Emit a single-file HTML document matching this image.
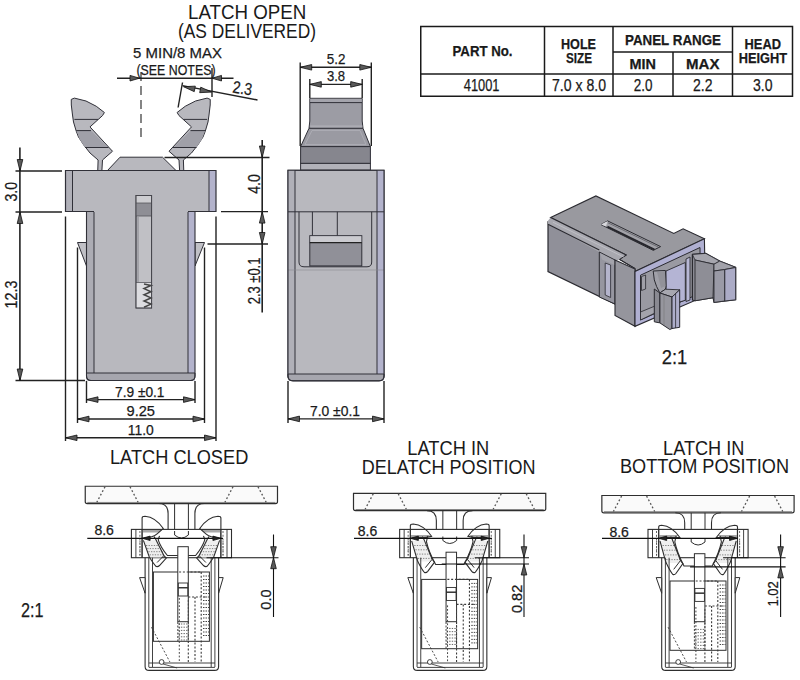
<!DOCTYPE html><html><head><meta charset="utf-8"><style>html,body{margin:0;padding:0;background:#fff;}svg{display:block}</style></head><body>
<svg width="800" height="680" viewBox="0 0 800 680">
<rect width="800" height="680" fill="#fff"/>
<polygon points="71.25,99.40 74.40,98.10 86.00,101.00 96.25,106.25 104.40,112.50 102.50,115.60 90.00,126.90 112.50,151.25 102.50,160.00 101.90,170.50 97.75,170.50 98.10,160.00 90.00,153.00 83.75,145.00 78.50,137.00 76.25,131.25 73.50,122.00 72.50,115.00 71.30,105.00" fill="#b8b8be" stroke="#303038" stroke-width="1.0" />
<polygon points="210.25,99.40 207.10,98.10 195.50,101.00 185.25,106.25 177.10,112.50 179.00,115.60 191.50,126.90 169.00,151.25 179.00,160.00 179.60,170.50 183.75,170.50 183.40,160.00 191.50,153.00 197.75,145.00 203.00,137.00 205.25,131.25 208.00,122.00 209.00,115.00 210.20,105.00" fill="#b8b8be" stroke="#303038" stroke-width="1.0" />
<polygon points="76.50,130.60 91.00,130.60 108.00,147.50 85.00,147.50 79.50,139.00" fill="#a0a0a8" stroke="none" stroke-width="1.0" />
<line x1="74.4" y1="119.4" x2="98" y2="119.4" stroke="#303038" stroke-width="1.0" />
<line x1="76.2" y1="130.6" x2="91" y2="130.6" stroke="#303038" stroke-width="1.0" />
<line x1="85" y1="147.5" x2="108.5" y2="147.5" stroke="#303038" stroke-width="1.0" />
<polygon points="205.00,130.60 190.50,130.60 173.50,147.50 196.50,147.50 202.00,139.00" fill="#a0a0a8" stroke="none" stroke-width="1.0" />
<line x1="207.1" y1="119.4" x2="183.5" y2="119.4" stroke="#303038" stroke-width="1.0" />
<line x1="205.3" y1="130.6" x2="190.5" y2="130.6" stroke="#303038" stroke-width="1.0" />
<line x1="196.5" y1="147.5" x2="173.0" y2="147.5" stroke="#303038" stroke-width="1.0" />
<polygon points="107.50,170.50 120.00,157.20 162.50,157.20 176.00,170.50" fill="#b8b8be" stroke="#303038" stroke-width="1.0" />
<polygon points="77.50,242.50 86.50,242.50 86.50,266.00" fill="#c0c0c6" stroke="#303038" stroke-width="1.0" />
<polygon points="204.50,242.50 195.00,242.50 195.00,266.00" fill="#c0c0c6" stroke="#303038" stroke-width="1.0" />
<path d="M86.5,210.5 L195,210.5 L195,376 Q195,380.5 190.5,380.5 L91,380.5 Q86.5,380.5 86.5,376 Z" fill="#b8b8be" stroke="none"/>
<rect x="86.5" y="211.5" width="7.5" height="169" rx="0" fill="#acacb4" stroke="#303038" stroke-width="0" />
<rect x="188" y="211.5" width="7" height="169" rx="0" fill="#b3b3cc" stroke="#303038" stroke-width="0" />
<line x1="94" y1="211.5" x2="94" y2="380" stroke="#303038" stroke-width="1" />
<line x1="188" y1="211.5" x2="188" y2="380" stroke="#303038" stroke-width="1" />
<path d="M86.5,373 L195,373 L195,376 Q195,380.5 190.5,380.5 L91,380.5 Q86.5,380.5 86.5,376 Z" fill="#a6a6ae" stroke="#303038" stroke-width="1.0"/>
<path d="M195,211.5 L195,376 Q195,380.5 190.5,380.5 L91,380.5 Q86.5,380.5 86.5,376 L86.5,211.5" fill="none" stroke="#303038" stroke-width="1.1"/>
<rect x="65.5" y="170.5" width="150.5" height="41.5" rx="0" fill="#b8b8be" stroke="#303038" stroke-width="0" />
<rect x="65.5" y="170.5" width="7" height="41" rx="0" fill="#b0b0b8" stroke="#303038" stroke-width="0" />
<rect x="209" y="170.5" width="7" height="41" rx="0" fill="#b3b3cc" stroke="#303038" stroke-width="0" />
<line x1="72.5" y1="170.5" x2="72.5" y2="211.5" stroke="#303038" stroke-width="1" />
<line x1="209" y1="170.5" x2="209" y2="211.5" stroke="#303038" stroke-width="1" />
<path d="M94,211.5 L65.5,211.5 L65.5,170.5 L216,170.5 L216,211.5 L188,211.5" fill="none" stroke="#303038" stroke-width="1.2"/>
<rect x="136" y="195.5" width="15.6" height="112.5" rx="0" fill="#c0c0c5" stroke="#45454c" stroke-width="0.9" />
<rect x="136.4" y="196" width="14.8" height="7" rx="0" fill="#cdcdd1" stroke="#303038" stroke-width="0" />
<rect x="136.4" y="203" width="14.8" height="13" rx="0" fill="#8e8e95" stroke="#303038" stroke-width="0" />
<line x1="136" y1="203" x2="151.6" y2="203" stroke="#55555c" stroke-width="0.8" />
<line x1="136" y1="216" x2="151.6" y2="216" stroke="#55555c" stroke-width="0.8" />
<rect x="136.4" y="282.5" width="14.8" height="25" rx="0" fill="#dcdce0" stroke="#303038" stroke-width="0" />
<line x1="136" y1="282.5" x2="151.6" y2="282.5" stroke="#55555c" stroke-width="0.8" />
<path d="M144,284 L151,285.5 L144,288.6 L151,291.7 L144,294.8 L151,297.9 L144,301.0 L151,304.1 L144,307.2" fill="none" stroke="#444" stroke-width="1.5"/>
<line x1="138" y1="217" x2="138" y2="282" stroke="#77777e" stroke-width="0.8" />
<rect x="136" y="195.5" width="15.6" height="112.5" rx="0" fill="none" stroke="#45454c" stroke-width="0.9" />
<line x1="15.5" y1="171" x2="62" y2="171" stroke="#222" stroke-width="1.4" />
<line x1="15.5" y1="212" x2="62" y2="212" stroke="#222" stroke-width="1.4" />
<line x1="15.5" y1="380.5" x2="85" y2="380.5" stroke="#222" stroke-width="1.4" />
<line x1="19.9" y1="147.5" x2="19.9" y2="380.5" stroke="#222" stroke-width="1.6" />
<polygon points="20.00,171.00 17.20,159.50 22.80,159.50" fill="#5a5a5a" stroke="#111" stroke-width="0.8"/>
<polygon points="20.00,212.00 22.80,223.50 17.20,223.50" fill="#5a5a5a" stroke="#111" stroke-width="0.8"/>
<polygon points="20.00,380.50 17.20,369.00 22.80,369.00" fill="#5a5a5a" stroke="#111" stroke-width="0.8"/>
<text transform="translate(17.4,201.5) rotate(-90)" font-size="16.5" font-family="Liberation Sans, sans-serif" stroke="#1a1a1a" stroke-width="0.25" fill="#1a1a1a" textLength="19.5" lengthAdjust="spacingAndGlyphs">3.0</text>
<text transform="translate(17.4,308.6) rotate(-90)" font-size="16.5" font-family="Liberation Sans, sans-serif" stroke="#1a1a1a" stroke-width="0.25" fill="#1a1a1a" textLength="28" lengthAdjust="spacingAndGlyphs">12.3</text>
<line x1="164.5" y1="157.5" x2="269.5" y2="157.5" stroke="#222" stroke-width="1.4" />
<line x1="221" y1="211.6" x2="268" y2="211.6" stroke="#222" stroke-width="1.4" />
<line x1="207.5" y1="244" x2="268" y2="244" stroke="#222" stroke-width="1.4" />
<line x1="262.2" y1="140" x2="262.2" y2="312.4" stroke="#222" stroke-width="1.6" />
<polygon points="262.20,157.50 259.40,146.00 265.00,146.00" fill="#5a5a5a" stroke="#111" stroke-width="0.8"/>
<polygon points="262.20,211.60 265.00,223.10 259.40,223.10" fill="#5a5a5a" stroke="#111" stroke-width="0.8"/>
<polygon points="262.20,244.00 259.40,232.50 265.00,232.50" fill="#5a5a5a" stroke="#111" stroke-width="0.8"/>
<text transform="translate(259.6,193.8) rotate(-90)" font-size="16.5" font-family="Liberation Sans, sans-serif" stroke="#1a1a1a" stroke-width="0.25" fill="#1a1a1a" textLength="19.8" lengthAdjust="spacingAndGlyphs">4.0</text>
<text transform="translate(259.6,304.2) rotate(-90)" font-size="16.5" font-family="Liberation Sans, sans-serif" stroke="#1a1a1a" stroke-width="0.25" fill="#1a1a1a" textLength="46.6" lengthAdjust="spacingAndGlyphs">2.3 ±0.1</text>
<line x1="86.5" y1="381" x2="86.5" y2="403" stroke="#222" stroke-width="1.4" />
<line x1="195" y1="381" x2="195" y2="403" stroke="#222" stroke-width="1.4" />
<line x1="77.5" y1="247.5" x2="77.5" y2="423" stroke="#222" stroke-width="1.4" />
<line x1="204.5" y1="247.5" x2="204.5" y2="423" stroke="#222" stroke-width="1.4" />
<line x1="65.5" y1="216.5" x2="65.5" y2="441" stroke="#222" stroke-width="1.4" />
<line x1="216" y1="216.5" x2="216" y2="441" stroke="#222" stroke-width="1.4" />
<line x1="86.5" y1="399.6" x2="195" y2="399.6" stroke="#222" stroke-width="1.4" />
<polygon points="86.50,399.60 98.00,396.80 98.00,402.40" fill="#5a5a5a" stroke="#111" stroke-width="0.8"/>
<polygon points="195.00,399.60 183.50,402.40 183.50,396.80" fill="#5a5a5a" stroke="#111" stroke-width="0.8"/>
<line x1="77.5" y1="419" x2="204.5" y2="419" stroke="#222" stroke-width="1.4" />
<polygon points="77.50,419.00 89.00,416.20 89.00,421.80" fill="#5a5a5a" stroke="#111" stroke-width="0.8"/>
<polygon points="204.50,419.00 193.00,421.80 193.00,416.20" fill="#5a5a5a" stroke="#111" stroke-width="0.8"/>
<line x1="65.5" y1="437.8" x2="216" y2="437.8" stroke="#222" stroke-width="1.4" />
<polygon points="65.50,437.80 77.00,435.00 77.00,440.60" fill="#5a5a5a" stroke="#111" stroke-width="0.8"/>
<polygon points="216.00,437.80 204.50,440.60 204.50,435.00" fill="#5a5a5a" stroke="#111" stroke-width="0.8"/>
<text x="139.75" y="396.5" font-size="15.5" font-family="Liberation Sans, sans-serif" stroke="#1a1a1a" stroke-width="0.25" font-weight="normal" fill="#1a1a1a" text-anchor="middle" textLength="49.5" lengthAdjust="spacingAndGlyphs">7.9 ±0.1</text>
<text x="140.75" y="416.2" font-size="15.5" font-family="Liberation Sans, sans-serif" stroke="#1a1a1a" stroke-width="0.25" font-weight="normal" fill="#1a1a1a" text-anchor="middle" textLength="28.5" lengthAdjust="spacingAndGlyphs">9.25</text>
<text x="140.75" y="435.2" font-size="15.5" font-family="Liberation Sans, sans-serif" stroke="#1a1a1a" stroke-width="0.25" font-weight="normal" fill="#1a1a1a" text-anchor="middle" textLength="26" lengthAdjust="spacingAndGlyphs">11.0</text>
<line x1="117" y1="78.2" x2="233.5" y2="78.2" stroke="#222" stroke-width="1.4" />
<polygon points="139.50,78.20 130.00,81.00 130.00,75.40" fill="#5a5a5a" stroke="#111" stroke-width="0.8"/>
<polygon points="212.00,78.20 221.50,75.40 221.50,81.00" fill="#5a5a5a" stroke="#111" stroke-width="0.8"/>
<line x1="141" y1="72" x2="141" y2="137" stroke="#222" stroke-width="1.1" stroke-dasharray="9,5"/>
<line x1="212" y1="68" x2="212" y2="97" stroke="#222" stroke-width="1.4" />
<line x1="182.5" y1="85.6" x2="257.5" y2="100" stroke="#222" stroke-width="1.4" />
<line x1="182.5" y1="82.5" x2="178.1" y2="107.5" stroke="#222" stroke-width="1.4" />
<polygon points="183.50,86.70 195.32,86.14 194.26,91.64" fill="#5a5a5a" stroke="#111" stroke-width="0.8"/>
<polygon points="211.50,92.10 199.68,92.66 200.74,87.16" fill="#5a5a5a" stroke="#111" stroke-width="0.8"/>
<text transform="translate(232,92.6) rotate(8)" font-size="17" font-family="Liberation Sans, sans-serif" stroke="#1a1a1a" stroke-width="0.25" fill="#1a1a1a" textLength="19.5" lengthAdjust="spacingAndGlyphs">2.3</text>
<text x="177.5" y="58.1" font-size="15.5" font-family="Liberation Sans, sans-serif" stroke="#1a1a1a" stroke-width="0.25" font-weight="normal" fill="#1a1a1a" text-anchor="middle" textLength="88.8" lengthAdjust="spacingAndGlyphs">5 MIN/8 MAX</text>
<text x="176" y="75" font-size="15.5" font-family="Liberation Sans, sans-serif" stroke="#1a1a1a" stroke-width="0.25" font-weight="normal" fill="#1a1a1a" text-anchor="middle" textLength="79" lengthAdjust="spacingAndGlyphs">(SEE NOTES)</text>
<text x="247.2" y="19.3" font-size="19.5" font-family="Liberation Sans, sans-serif" font-weight="normal" fill="#1a1a1a" text-anchor="middle" textLength="118.4" lengthAdjust="spacingAndGlyphs">LATCH OPEN</text>
<text x="247" y="38.3" font-size="19.5" font-family="Liberation Sans, sans-serif" font-weight="normal" fill="#1a1a1a" text-anchor="middle" textLength="138" lengthAdjust="spacingAndGlyphs">(AS DELIVERED)</text>
<path d="M309.8,98.3 L362.2,98.3 L362.2,121 L363,128.3 L309,128.3 L309.8,121 Z" fill="#9c9ca4" stroke="#303038" stroke-width="1.0"/>
<rect x="310.3" y="98.8" width="51.4" height="3.6" rx="0" fill="#a4a4ac" stroke="#303038" stroke-width="0" />
<line x1="310" y1="102.6" x2="362" y2="102.6" stroke="#303038" stroke-width="1.0" />
<rect x="310.3" y="125.3" width="52" height="2.5" rx="0" fill="#acacb3" stroke="#303038" stroke-width="0" />
<polygon points="309.00,128.30 363.00,128.30 370.40,146.60 300.60,146.60" fill="#9a9aa2" stroke="#303038" stroke-width="1.0" />
<polygon points="312.00,130.50 360.00,130.50 366.00,144.50 305.00,144.50" fill="none" stroke="#b0b0b8" stroke-width="0.8" />
<rect x="300.6" y="146.6" width="69.8" height="16.8" rx="0" fill="#86868e" stroke="#303038" stroke-width="1.0" />
<rect x="300.6" y="163.4" width="69.8" height="6.8" rx="0" fill="#b2b2b9" stroke="#303038" stroke-width="1.0" />
<path d="M288,170.2 L384,170.2 L384,376 Q384,380.8 379,380.8 L293,380.8 Q288,380.8 288,376 Z" fill="#b8b8be" stroke="#303038" stroke-width="1.1"/>
<rect x="288" y="170.2" width="7" height="210" rx="0" fill="#b0b0b8" stroke="#303038" stroke-width="0" />
<rect x="377" y="170.2" width="7" height="210" rx="0" fill="#b3b3cc" stroke="#303038" stroke-width="0" />
<line x1="295" y1="170.2" x2="295" y2="380" stroke="#303038" stroke-width="1" />
<line x1="377" y1="170.2" x2="377" y2="380" stroke="#303038" stroke-width="1" />
<line x1="288" y1="211.8" x2="384" y2="211.8" stroke="#303038" stroke-width="1" />
<path d="M299,211.8 L299,262 Q299,266.8 304,266.8 L367,266.8 Q371.7,266.8 371.7,262 L371.7,211.8" fill="none" stroke="#303038" stroke-width="1"/>
<line x1="312.4" y1="211.8" x2="312.4" y2="235.7" stroke="#303038" stroke-width="1" />
<line x1="337.3" y1="211.8" x2="337.3" y2="235.7" stroke="#303038" stroke-width="1" />
<rect x="309.8" y="235.7" width="52" height="30.2" rx="0" fill="#909098" stroke="#303038" stroke-width="1.0" />
<rect x="310.3" y="236.2" width="51" height="6.4" rx="0" fill="#cbcbd0" stroke="#303038" stroke-width="0" />
<line x1="309.8" y1="242.6" x2="361.8" y2="242.6" stroke="#222" stroke-width="1.2" />
<line x1="288" y1="270" x2="384" y2="270" stroke="#8a8a92" stroke-width="0.6" />
<path d="M288,374 L384,374 L384,376 Q384,380.8 379,380.8 L293,380.8 Q288,380.8 288,376 Z" fill="#a6a6ae" stroke="#303038" stroke-width="1.0"/>
<path d="M288,170.2 L384,170.2 L384,376 Q384,380.8 379,380.8 L293,380.8 Q288,380.8 288,376 Z" fill="none" stroke="#303038" stroke-width="1.1"/>
<line x1="300.2" y1="62.6" x2="300.2" y2="146" stroke="#222" stroke-width="1.4" />
<line x1="371.3" y1="62.6" x2="371.3" y2="146" stroke="#222" stroke-width="1.4" />
<line x1="309.8" y1="79" x2="309.8" y2="98" stroke="#222" stroke-width="1.4" />
<line x1="362.2" y1="79" x2="362.2" y2="98" stroke="#222" stroke-width="1.4" />
<line x1="300.2" y1="67.3" x2="371.3" y2="67.3" stroke="#222" stroke-width="1.4" />
<polygon points="300.20,67.30 311.70,64.50 311.70,70.10" fill="#5a5a5a" stroke="#111" stroke-width="0.8"/>
<polygon points="371.30,67.30 359.80,70.10 359.80,64.50" fill="#5a5a5a" stroke="#111" stroke-width="0.8"/>
<line x1="309.8" y1="84.4" x2="362.2" y2="84.4" stroke="#222" stroke-width="1.4" />
<polygon points="309.80,84.40 321.30,81.60 321.30,87.20" fill="#5a5a5a" stroke="#111" stroke-width="0.8"/>
<polygon points="362.20,84.40 350.70,87.20 350.70,81.60" fill="#5a5a5a" stroke="#111" stroke-width="0.8"/>
<text x="336.2" y="63.9" font-size="15.5" font-family="Liberation Sans, sans-serif" stroke="#1a1a1a" stroke-width="0.25" font-weight="normal" fill="#1a1a1a" text-anchor="middle" textLength="18.7" lengthAdjust="spacingAndGlyphs">5.2</text>
<text x="336" y="81.1" font-size="15.5" font-family="Liberation Sans, sans-serif" stroke="#1a1a1a" stroke-width="0.25" font-weight="normal" fill="#1a1a1a" text-anchor="middle" textLength="18.2" lengthAdjust="spacingAndGlyphs">3.8</text>
<line x1="288" y1="381" x2="288" y2="423" stroke="#222" stroke-width="1.4" />
<line x1="384" y1="381" x2="384" y2="423" stroke="#222" stroke-width="1.4" />
<line x1="288" y1="418.9" x2="384" y2="418.9" stroke="#222" stroke-width="1.4" />
<polygon points="288.00,418.90 299.50,416.10 299.50,421.70" fill="#5a5a5a" stroke="#111" stroke-width="0.8"/>
<polygon points="384.00,418.90 372.50,421.70 372.50,416.10" fill="#5a5a5a" stroke="#111" stroke-width="0.8"/>
<text x="335" y="415.6" font-size="15.5" font-family="Liberation Sans, sans-serif" stroke="#1a1a1a" stroke-width="0.25" font-weight="normal" fill="#1a1a1a" text-anchor="middle" textLength="50" lengthAdjust="spacingAndGlyphs">7.0 ±0.1</text>
<rect x="420.75" y="26.5" width="371.75" height="69.75" fill="none" stroke="#1a1a1a" stroke-width="1.5"/>
<line x1="420.75" y1="74" x2="792.5" y2="74" stroke="#1a1a1a" stroke-width="1.5" />
<line x1="544.5" y1="26.5" x2="544.5" y2="96.25" stroke="#1a1a1a" stroke-width="1.5" />
<line x1="613" y1="26.5" x2="613" y2="96.25" stroke="#1a1a1a" stroke-width="1.5" />
<line x1="732.5" y1="26.5" x2="732.5" y2="96.25" stroke="#1a1a1a" stroke-width="1.5" />
<line x1="673" y1="52" x2="673" y2="96.25" stroke="#1a1a1a" stroke-width="1.5" />
<line x1="613" y1="52" x2="732.5" y2="52" stroke="#1a1a1a" stroke-width="1.5" />
<text x="482.5" y="56.25" font-size="14.5" font-family="Liberation Sans, sans-serif" stroke="#1a1a1a" stroke-width="0.25" font-weight="bold" fill="#1a1a1a" text-anchor="middle" textLength="60" lengthAdjust="spacingAndGlyphs">PART No.</text>
<text x="578.5" y="48.75" font-size="14.5" font-family="Liberation Sans, sans-serif" stroke="#1a1a1a" stroke-width="0.25" font-weight="bold" fill="#1a1a1a" text-anchor="middle" textLength="35" lengthAdjust="spacingAndGlyphs">HOLE</text>
<text x="579" y="63" font-size="14.5" font-family="Liberation Sans, sans-serif" stroke="#1a1a1a" stroke-width="0.25" font-weight="bold" fill="#1a1a1a" text-anchor="middle" textLength="26" lengthAdjust="spacingAndGlyphs">SIZE</text>
<text x="673" y="45" font-size="14.5" font-family="Liberation Sans, sans-serif" stroke="#1a1a1a" stroke-width="0.25" font-weight="bold" fill="#1a1a1a" text-anchor="middle" textLength="96" lengthAdjust="spacingAndGlyphs">PANEL RANGE</text>
<text x="642.75" y="68.75" font-size="14.5" font-family="Liberation Sans, sans-serif" stroke="#1a1a1a" stroke-width="0.25" font-weight="bold" fill="#1a1a1a" text-anchor="middle" textLength="26.5" lengthAdjust="spacingAndGlyphs">MIN</text>
<text x="702.75" y="68.75" font-size="14.5" font-family="Liberation Sans, sans-serif" stroke="#1a1a1a" stroke-width="0.25" font-weight="bold" fill="#1a1a1a" text-anchor="middle" textLength="33.5" lengthAdjust="spacingAndGlyphs">MAX</text>
<text x="762.75" y="48.75" font-size="14.5" font-family="Liberation Sans, sans-serif" stroke="#1a1a1a" stroke-width="0.25" font-weight="bold" fill="#1a1a1a" text-anchor="middle" textLength="36.5" lengthAdjust="spacingAndGlyphs">HEAD</text>
<text x="762.9" y="63" font-size="14.5" font-family="Liberation Sans, sans-serif" stroke="#1a1a1a" stroke-width="0.25" font-weight="bold" fill="#1a1a1a" text-anchor="middle" textLength="48.3" lengthAdjust="spacingAndGlyphs">HEIGHT</text>
<text x="481.6" y="91" font-size="16" font-family="Liberation Sans, sans-serif" stroke="#1a1a1a" stroke-width="0.25" font-weight="normal" fill="#1a1a1a" text-anchor="middle" textLength="35.7" lengthAdjust="spacingAndGlyphs">41001</text>
<text x="579" y="91" font-size="16" font-family="Liberation Sans, sans-serif" stroke="#1a1a1a" stroke-width="0.25" font-weight="normal" fill="#1a1a1a" text-anchor="middle" textLength="54" lengthAdjust="spacingAndGlyphs">7.0 x 8.0</text>
<text x="643.1" y="91" font-size="16" font-family="Liberation Sans, sans-serif" stroke="#1a1a1a" stroke-width="0.25" font-weight="normal" fill="#1a1a1a" text-anchor="middle" textLength="18.7" lengthAdjust="spacingAndGlyphs">2.0</text>
<text x="702.75" y="91" font-size="16" font-family="Liberation Sans, sans-serif" stroke="#1a1a1a" stroke-width="0.25" font-weight="normal" fill="#1a1a1a" text-anchor="middle" textLength="19.5" lengthAdjust="spacingAndGlyphs">2.2</text>
<text x="762.75" y="91" font-size="16" font-family="Liberation Sans, sans-serif" stroke="#1a1a1a" stroke-width="0.25" font-weight="normal" fill="#1a1a1a" text-anchor="middle" textLength="19.5" lengthAdjust="spacingAndGlyphs">3.0</text>
<polygon points="548.00,222.00 615.00,256.00 615.00,304.00 548.00,271.60" fill="#909099" stroke="#2a2a30" stroke-width="1.2" />
<polygon points="550.60,217.60 595.90,195.90 673.80,233.40 683.10,228.75 704.40,238.75 635.00,271.50 635.00,268.50 619.60,259.40 626.20,255.00" fill="#99999f" stroke="#2a2a30" stroke-width="1.1" />
<polygon points="548.00,220.80 550.60,217.60 626.20,255.00 619.60,259.40 615.00,261.00 599.30,252.00 548.00,224.30" fill="#a8a8af" stroke="none" stroke-width="1.0" />
<line x1="550.6" y1="217.6" x2="626.2" y2="255" stroke="#2a2a30" stroke-width="1.1" />
<line x1="626.2" y1="255" x2="619.6" y2="259.4" stroke="#2a2a30" stroke-width="1.0" />
<line x1="619.6" y1="259.4" x2="635" y2="268.5" stroke="#2a2a30" stroke-width="1.0" />
<line x1="548" y1="224.3" x2="599.3" y2="250" stroke="#2a2a30" stroke-width="1.1" />
<line x1="553" y1="222.2" x2="624" y2="257.2" stroke="#c4c4ca" stroke-width="0.8" />
<polygon points="601.00,224.60 607.60,220.90 660.60,246.60 653.20,250.30" fill="#a2a2a8" stroke="#2a2a30" stroke-width="1.0" />
<line x1="607.4" y1="226.6" x2="654.5" y2="249.6" stroke="#26262c" stroke-width="1.8" />
<line x1="608" y1="222.8" x2="658.5" y2="247.2" stroke="#55555c" stroke-width="0.7" />
<polygon points="601.00,224.60 607.60,220.90 606.00,226.50" fill="#d8d8dc" stroke="none" stroke-width="1.0" />
<polygon points="599.30,252.00 615.00,260.00 615.00,304.00 599.30,297.00" fill="#9696a0" stroke="#2a2a30" stroke-width="1.0" />
<polygon points="605.20,263.00 610.60,265.00 610.60,297.50 605.20,295.00" fill="#b4b4cc" stroke="#2a2a30" stroke-width="0.8" />
<polygon points="600.00,253.00 614.50,260.50 614.50,265.00 602.00,259.50" fill="#a4a4ac" stroke="none" stroke-width="1.0" />
<polygon points="615.00,260.00 635.00,269.00 635.00,326.30 615.00,315.50" fill="#95959d" stroke="#2a2a30" stroke-width="1.1" />
<polygon points="635.00,271.50 704.40,238.75 705.50,296.00 635.00,326.30" fill="#b0b0d2" stroke="#2a2a30" stroke-width="1.1" />
<polygon points="640.50,275.20 700.00,247.50 700.50,293.00 640.50,320.00" fill="#9a9aa2" stroke="#2a2a30" stroke-width="1.0" />
<polygon points="666.00,271.00 685.30,262.50 685.30,300.30 666.00,306.00" fill="#b4b4d4" stroke="#2a2a30" stroke-width="0.9" />
<polygon points="640.50,312.00 655.00,306.00 655.00,313.00 640.50,320.00" fill="#a4a4ac" stroke="#2a2a30" stroke-width="0.8" />
<polygon points="641.50,276.50 645.60,275.00 645.60,289.00 641.50,290.50" fill="#a0a0a8" stroke="#2a2a30" stroke-width="0.8" />
<polygon points="686.00,259.00 690.00,257.00 690.00,300.00 686.00,301.50" fill="#b8b8d6" stroke="#2a2a30" stroke-width="0.9" />
<polygon points="692.40,254.40 705.80,253.40 719.70,261.10 735.70,267.30 735.70,299.80 714.00,302.40 713.00,297.70 695.00,300.80 692.40,300.00" fill="#8b8b94" stroke="#2a2a30" stroke-width="1.1" />
<polygon points="692.40,254.40 705.80,253.40 719.70,261.10 714.00,264.20 695.00,260.00" fill="#a6a6ae" stroke="#2a2a30" stroke-width="0.8" />
<polygon points="695.00,260.00 714.00,264.20 713.00,297.70 695.00,300.80" fill="#8e8e96" stroke="#2a2a30" stroke-width="0.9" />
<polygon points="714.00,264.20 719.70,261.10 735.70,267.30 724.80,269.50 714.00,271.00" fill="#a2a2aa" stroke="#2a2a30" stroke-width="0.8" />
<polygon points="714.00,271.00 724.80,269.50 724.80,301.00 714.00,302.40" fill="#9a9aa6" stroke="#2a2a30" stroke-width="0.9" />
<polygon points="724.80,269.50 735.70,267.50 735.70,299.80 724.80,301.00" fill="#ababc6" stroke="#2a2a30" stroke-width="0.9" />
<line x1="692.4" y1="254.6" x2="692.4" y2="300" stroke="#2a2a30" stroke-width="1.0" />
<polygon points="653.20,271.00 665.40,270.50 666.00,287.00 665.40,289.20 659.90,293.00 656.60,286.50 654.30,279.90" fill="#a0a0a8" stroke="#2a2a30" stroke-width="1.0" />
<polygon points="657.00,272.00 665.00,271.00 665.50,286.00 661.00,288.00" fill="#929299" stroke="none" stroke-width="1.0" />
<polygon points="654.30,289.00 659.90,293.00 659.90,322.90 654.30,321.80" fill="#8a8a92" stroke="#2a2a30" stroke-width="1.0" />
<polygon points="659.90,293.00 665.40,289.20 679.70,289.80 672.00,297.00" fill="#a8a8b0" stroke="#2a2a30" stroke-width="0.9" />
<polygon points="659.90,293.00 672.00,297.00 672.00,328.50 669.80,329.50 659.90,322.90" fill="#96969e" stroke="#2a2a30" stroke-width="1.0" />
<polygon points="672.00,297.00 679.70,289.80 679.70,327.30 672.00,328.50" fill="#aeaeca" stroke="#2a2a30" stroke-width="1.0" />
<line x1="675.6" y1="294" x2="675.6" y2="328" stroke="#2a2a30" stroke-width="0.8" />
<line x1="664" y1="295" x2="664" y2="325" stroke="#777" stroke-width="0.6" />
<text x="674.5" y="363.8" font-size="19.5" font-family="Liberation Sans, sans-serif" stroke="#1a1a1a" stroke-width="0.25" font-weight="normal" fill="#1a1a1a" text-anchor="middle" textLength="25.5" lengthAdjust="spacingAndGlyphs">2:1</text>
<text x="32.2" y="617" font-size="19.5" font-family="Liberation Sans, sans-serif" stroke="#1a1a1a" stroke-width="0.25" font-weight="normal" fill="#1a1a1a" text-anchor="middle" textLength="22.5" lengthAdjust="spacingAndGlyphs">2:1</text>
<path d="M85.25,486.25 L277.5,486.25 L277.5,501.75 Q277.5,503.55 275.5,503.55 L87.25,503.55 Q85.25,503.55 85.25,501.75 Z" fill="#fafafa" stroke="#2e2e2e" stroke-width="1.2" />
<line x1="87.25" y1="502.45" x2="275.5" y2="502.45" stroke="#555" stroke-width="0.7" />
<line x1="105.00" y1="486.75" x2="96.85" y2="502.25" stroke="#555" stroke-width="1.3" stroke-dasharray="1.8,2.2"/>
<line x1="258.00" y1="486.75" x2="266.15" y2="502.25" stroke="#555" stroke-width="1.3" stroke-dasharray="1.8,2.2"/>
<line x1="130.00" y1="486.75" x2="138.10" y2="502.25" stroke="#555" stroke-width="1.3" stroke-dasharray="1.8,2.2"/>
<line x1="233.00" y1="486.75" x2="224.90" y2="502.25" stroke="#555" stroke-width="1.3" stroke-dasharray="1.8,2.2"/>
<path d="M158.75,503.55 Q168.1,503.55 168.1,513.55 L168.1,530.60 L165.1,530.60" fill="none" stroke="#2e2e2e" stroke-width="1.1" />
<line x1="174.6" y1="503.55" x2="174.6" y2="535" stroke="#2e2e2e" stroke-width="1.0" />
<path d="M204.25,503.55 Q194.9,503.55 194.9,513.55 L194.9,530.60 L197.9,530.60" fill="none" stroke="#2e2e2e" stroke-width="1.1" />
<line x1="188.4" y1="503.55" x2="188.4" y2="535" stroke="#2e2e2e" stroke-width="1.0" />
<rect x="131.4" y="529.4" width="100.1" height="28.3" rx="0" fill="#fff" stroke="#2e2e2e" stroke-width="1.1" />
<line x1="135.9" y1="529.4" x2="135.9" y2="557.7" stroke="#2e2e2e" stroke-width="0.9" />
<line x1="227.0" y1="529.4" x2="227.0" y2="557.7" stroke="#2e2e2e" stroke-width="0.9" />
<line x1="142.1" y1="529.4" x2="142.1" y2="557.7" stroke="#2e2e2e" stroke-width="0.9" />
<line x1="220.8" y1="529.4" x2="220.8" y2="557.7" stroke="#2e2e2e" stroke-width="0.9" />
<line x1="139.90" y1="531.00" x2="139.90" y2="556.00" stroke="#555" stroke-width="0.9" stroke-dasharray="2,1.8"/>
<line x1="223.00" y1="531.00" x2="223.00" y2="556.00" stroke="#555" stroke-width="0.9" stroke-dasharray="2,1.8"/>
<polygon points="142.60,529.90 162.00,529.90 159.00,532.60 142.60,532.60" fill="#a8a8a8" stroke="none" stroke-width="1.0" />
<polygon points="144.00,541.00 156.00,540.00 163.50,555.00 161.50,557.50 149.50,557.50" fill="#efefef" stroke="none" stroke-width="1.0" />
<line x1="146.00" y1="545.50" x2="159.00" y2="545.50" stroke="#666" stroke-width="0.8" stroke-dasharray="1.3,1.3"/>
<line x1="147.20" y1="548.60" x2="160.80" y2="548.60" stroke="#666" stroke-width="0.8" stroke-dasharray="1.3,1.3"/>
<line x1="148.40" y1="551.70" x2="162.60" y2="551.70" stroke="#666" stroke-width="0.8" stroke-dasharray="1.3,1.3"/>
<line x1="149.60" y1="554.80" x2="164.40" y2="554.80" stroke="#666" stroke-width="0.8" stroke-dasharray="1.3,1.3"/>
<line x1="140.00" y1="541.00" x2="140.00" y2="556.00" stroke="#555" stroke-width="0.9" stroke-dasharray="1.2,1.4"/>
<path d="M142.10,558.1 L142.10,517.90 Q142.10,516.20 145.00,516.20 Q155.50,517.00 163.30,528.50 L157.10,533.80 Q154.50,536.00 151.50,536.80 L143.40,538.2" fill="none" stroke="#2e2e2e" stroke-width="1.1" />
<path d="M143.40,540.40 L149.20,556.80 Q153.50,564.00 156.20,566.50 Q158.00,567.00 159.50,565.50 L166.30,558.00 L163.90,555.60 L155.70,539.20 L154.00,536.6" fill="none" stroke="#2e2e2e" stroke-width="1.1" />
<path d="M163.90,555.60 L157.10,562.50" fill="none" stroke="#2e2e2e" stroke-width="1.0" />
<polygon points="220.40,529.90 201.00,529.90 204.00,532.60 220.40,532.60" fill="#a8a8a8" stroke="none" stroke-width="1.0" />
<polygon points="219.00,541.00 207.00,540.00 199.50,555.00 201.50,557.50 213.50,557.50" fill="#efefef" stroke="none" stroke-width="1.0" />
<line x1="217.00" y1="545.50" x2="204.00" y2="545.50" stroke="#666" stroke-width="0.8" stroke-dasharray="1.3,1.3"/>
<line x1="215.80" y1="548.60" x2="202.20" y2="548.60" stroke="#666" stroke-width="0.8" stroke-dasharray="1.3,1.3"/>
<line x1="214.60" y1="551.70" x2="200.40" y2="551.70" stroke="#666" stroke-width="0.8" stroke-dasharray="1.3,1.3"/>
<line x1="213.40" y1="554.80" x2="198.60" y2="554.80" stroke="#666" stroke-width="0.8" stroke-dasharray="1.3,1.3"/>
<line x1="223.00" y1="541.00" x2="223.00" y2="556.00" stroke="#555" stroke-width="0.9" stroke-dasharray="1.2,1.4"/>
<path d="M220.90,558.1 L220.90,517.90 Q220.90,516.20 218.00,516.20 Q207.50,517.00 199.70,528.50 L205.90,533.80 Q208.50,536.00 211.50,536.80 L219.60,538.2" fill="none" stroke="#2e2e2e" stroke-width="1.1" />
<path d="M219.60,540.40 L213.80,556.80 Q209.50,564.00 206.80,566.50 Q205.00,567.00 203.50,565.50 L196.70,558.00 L199.10,555.60 L207.30,539.20 L209.00,536.6" fill="none" stroke="#2e2e2e" stroke-width="1.1" />
<path d="M199.10,555.60 L205.90,562.50" fill="none" stroke="#2e2e2e" stroke-width="1.0" />
<path d="M159.5,535.8 L158.2,539.80 Q160.5,547.00 167.4,555.50 L195.6,555.50 Q202.5,547.00 204.8,539.80 L203.5,535.8" fill="none" stroke="#2e2e2e" stroke-width="1.1" />
<path d="M174.6,531 L174.6,535 Q181.5,541 188.4,535 L188.4,531" fill="#fff" stroke="#2e2e2e" stroke-width="1.0" />
<path d="M145.1,557.7 L145.1,666.4 Q145.1,670.4 149.1,670.4 L214.6,670.4 Q218.6,670.4 218.6,666.4 L218.6,557.7" fill="none" stroke="#2e2e2e" stroke-width="1.1" />
<line x1="148.79999999999998" y1="557.7" x2="148.79999999999998" y2="667" stroke="#2e2e2e" stroke-width="0.9" />
<line x1="214.9" y1="557.7" x2="214.9" y2="667" stroke="#2e2e2e" stroke-width="0.9" />
<line x1="152.5" y1="557.7" x2="152.5" y2="667" stroke="#2e2e2e" stroke-width="0.9" />
<line x1="211.2" y1="557.7" x2="211.2" y2="667" stroke="#2e2e2e" stroke-width="0.9" />
<line x1="148.79999999999998" y1="663" x2="214.9" y2="663" stroke="#2e2e2e" stroke-width="0.9" />
<line x1="148.79999999999998" y1="667.4" x2="214.9" y2="667.4" stroke="#2e2e2e" stroke-width="0.9" />
<polygon points="139.60,577.60 145.10,577.60 145.10,593.20" fill="#fff" stroke="#2e2e2e" stroke-width="1.0" />
<polygon points="223.20,577.60 218.60,577.60 218.60,593.20" fill="#fff" stroke="#2e2e2e" stroke-width="1.0" />
<rect x="153.4" y="572" width="56" height="69.3" rx="0" fill="none" stroke="#2e2e2e" stroke-width="1.0" />
<rect x="177.8" y="546.7" width="10.5" height="75" rx="0" fill="#fff" stroke="#2e2e2e" stroke-width="1.0" />
<line x1="178.30" y1="624.00" x2="187.80" y2="624.00" stroke="#555" stroke-width="0.9" stroke-dasharray="1.4,1.2"/>
<line x1="178.30" y1="627.20" x2="187.80" y2="627.20" stroke="#555" stroke-width="0.9" stroke-dasharray="1.4,1.2"/>
<line x1="178.30" y1="630.40" x2="187.80" y2="630.40" stroke="#555" stroke-width="0.9" stroke-dasharray="1.4,1.2"/>
<line x1="178.30" y1="633.60" x2="187.80" y2="633.60" stroke="#555" stroke-width="0.9" stroke-dasharray="1.4,1.2"/>
<line x1="178.30" y1="636.80" x2="187.80" y2="636.80" stroke="#555" stroke-width="0.9" stroke-dasharray="1.4,1.2"/>
<line x1="178.30" y1="640.00" x2="187.80" y2="640.00" stroke="#555" stroke-width="0.9" stroke-dasharray="1.4,1.2"/>
<line x1="177.80" y1="622.00" x2="177.80" y2="641.30" stroke="#444" stroke-width="1.0" stroke-dasharray="2,1.5"/>
<line x1="188.30" y1="600.00" x2="188.30" y2="641.30" stroke="#444" stroke-width="1.0" stroke-dasharray="2,1.5"/>
<rect x="178.3" y="583.0" width="9.5" height="4.5" rx="0" fill="none" stroke="#2e2e2e" stroke-width="0.9" />
<rect x="178.3" y="588.0" width="9.5" height="8" rx="0" fill="none" stroke="#2e2e2e" stroke-width="0.9" />
<line x1="179.10" y1="572.00" x2="201.20" y2="572.00" stroke="#3a3a3a" stroke-width="1.1" stroke-dasharray="2,1.8"/>
<line x1="201.20" y1="572.00" x2="201.20" y2="662.00" stroke="#3a3a3a" stroke-width="1.1" stroke-dasharray="2,1.8"/>
<line x1="195.00" y1="597.00" x2="195.00" y2="662.00" stroke="#3a3a3a" stroke-width="1.1" stroke-dasharray="2,1.8"/>
<line x1="188.30" y1="597.00" x2="207.50" y2="597.00" stroke="#3a3a3a" stroke-width="1.1" stroke-dasharray="2,1.8"/>
<line x1="188.30" y1="622.00" x2="188.30" y2="662.00" stroke="#3a3a3a" stroke-width="1.1" stroke-dasharray="2,1.8"/>
<line x1="203.00" y1="576.00" x2="209.00" y2="576.00" stroke="#444" stroke-width="1.0" stroke-dasharray="1.5,1.0"/>
<line x1="203.00" y1="579.50" x2="209.00" y2="579.50" stroke="#444" stroke-width="1.0" stroke-dasharray="1.5,1.0"/>
<line x1="203.00" y1="583.00" x2="209.00" y2="583.00" stroke="#444" stroke-width="1.0" stroke-dasharray="1.5,1.0"/>
<line x1="203.00" y1="586.50" x2="209.00" y2="586.50" stroke="#444" stroke-width="1.0" stroke-dasharray="1.5,1.0"/>
<line x1="203.00" y1="590.00" x2="209.00" y2="590.00" stroke="#444" stroke-width="1.0" stroke-dasharray="1.5,1.0"/>
<line x1="203.00" y1="593.50" x2="209.00" y2="593.50" stroke="#444" stroke-width="1.0" stroke-dasharray="1.5,1.0"/>
<line x1="203.00" y1="597.00" x2="209.00" y2="597.00" stroke="#444" stroke-width="1.0" stroke-dasharray="1.5,1.0"/>
<line x1="203.00" y1="600.50" x2="209.00" y2="600.50" stroke="#444" stroke-width="1.0" stroke-dasharray="1.5,1.0"/>
<line x1="203.00" y1="604.00" x2="209.00" y2="604.00" stroke="#444" stroke-width="1.0" stroke-dasharray="1.5,1.0"/>
<line x1="203.00" y1="607.50" x2="209.00" y2="607.50" stroke="#444" stroke-width="1.0" stroke-dasharray="1.5,1.0"/>
<line x1="203.00" y1="611.00" x2="209.00" y2="611.00" stroke="#444" stroke-width="1.0" stroke-dasharray="1.5,1.0"/>
<line x1="203.00" y1="614.50" x2="209.00" y2="614.50" stroke="#444" stroke-width="1.0" stroke-dasharray="1.5,1.0"/>
<line x1="203.00" y1="618.00" x2="209.00" y2="618.00" stroke="#444" stroke-width="1.0" stroke-dasharray="1.5,1.0"/>
<line x1="203.00" y1="621.50" x2="209.00" y2="621.50" stroke="#444" stroke-width="1.0" stroke-dasharray="1.5,1.0"/>
<line x1="203.00" y1="625.00" x2="209.00" y2="625.00" stroke="#444" stroke-width="1.0" stroke-dasharray="1.5,1.0"/>
<line x1="203.00" y1="628.50" x2="209.00" y2="628.50" stroke="#444" stroke-width="1.0" stroke-dasharray="1.5,1.0"/>
<line x1="203.00" y1="632.00" x2="209.00" y2="632.00" stroke="#444" stroke-width="1.0" stroke-dasharray="1.5,1.0"/>
<line x1="203.00" y1="635.50" x2="209.00" y2="635.50" stroke="#444" stroke-width="1.0" stroke-dasharray="1.5,1.0"/>
<line x1="179.30" y1="598.00" x2="179.30" y2="662.00" stroke="#444" stroke-width="1.0" stroke-dasharray="1.8,1.8"/>
<line x1="151.50" y1="627.20" x2="169.90" y2="662.00" stroke="#3a3a3a" stroke-width="0.9" stroke-dasharray="2,1.8"/>
<circle cx="161.60" cy="662" r="2.4" fill="#fff" stroke="#2e2e2e" stroke-width="0.9"/>
<line x1="163.1" y1="664" x2="177.1" y2="668" stroke="#2e2e2e" stroke-width="0.8" />
<line x1="87.3" y1="538.3" x2="223" y2="538.3" stroke="#111" stroke-width="1.2" />
<polygon points="142.10,538.30 150.10,536.10 150.10,540.50" fill="#222" stroke="#111" stroke-width="0.8"/>
<polygon points="220.90,538.30 212.90,540.50 212.90,536.10" fill="#222" stroke="#111" stroke-width="0.8"/>
<text x="94.4" y="535.4" font-size="15.5" font-family="Liberation Sans, sans-serif" stroke="#1a1a1a" stroke-width="0.25" font-weight="normal" fill="#1a1a1a" text-anchor="start" textLength="19.5" lengthAdjust="spacingAndGlyphs">8.6</text>
<line x1="273.5" y1="534.5" x2="273.5" y2="617" stroke="#111" stroke-width="1.1" />
<line x1="206.5" y1="557.7" x2="278.5" y2="557.7" stroke="#111" stroke-width="1.1" />
<polygon points="273.50,557.70 270.70,546.70 276.30,546.70" fill="#5a5a5a" stroke="#111" stroke-width="0.8"/>
<polygon points="273.50,557.70 276.30,568.70 270.70,568.70" fill="#5a5a5a" stroke="#111" stroke-width="0.8"/>
<text transform="translate(270.80,609.70) rotate(-90)" font-size="15.5" font-family="Liberation Sans, sans-serif" stroke="#1a1a1a" stroke-width="0.25" fill="#1a1a1a" textLength="20.20" lengthAdjust="spacingAndGlyphs">0.0</text>
<text x="179.15" y="464" font-size="19.5" font-family="Liberation Sans, sans-serif" font-weight="normal" fill="#1a1a1a" text-anchor="middle" textLength="138.3" lengthAdjust="spacingAndGlyphs">LATCH CLOSED</text>
<path d="M353.5,493.3 L545.75,493.3 L545.75,508.8 Q545.75,510.6 543.75,510.6 L355.5,510.6 Q353.5,510.6 353.5,508.8 Z" fill="#fafafa" stroke="#2e2e2e" stroke-width="1.2" />
<line x1="355.5" y1="509.5" x2="543.75" y2="509.5" stroke="#555" stroke-width="0.7" />
<line x1="373.25" y1="493.80" x2="365.10" y2="509.30" stroke="#555" stroke-width="1.3" stroke-dasharray="1.8,2.2"/>
<line x1="526.25" y1="493.80" x2="534.40" y2="509.30" stroke="#555" stroke-width="1.3" stroke-dasharray="1.8,2.2"/>
<line x1="398.25" y1="493.80" x2="406.35" y2="509.30" stroke="#555" stroke-width="1.3" stroke-dasharray="1.8,2.2"/>
<line x1="501.25" y1="493.80" x2="493.15" y2="509.30" stroke="#555" stroke-width="1.3" stroke-dasharray="1.8,2.2"/>
<path d="M427.0,510.6 Q436.35,510.6 436.35,520.6 L436.35,532.16 L433.35,533.33" fill="none" stroke="#2e2e2e" stroke-width="1.1" />
<line x1="442.85" y1="510.6" x2="442.85" y2="540.5" stroke="#2e2e2e" stroke-width="1.0" />
<path d="M472.5,510.6 Q463.15,510.6 463.15,520.6 L463.15,532.16 L466.15,533.33" fill="none" stroke="#2e2e2e" stroke-width="1.1" />
<line x1="456.65" y1="510.6" x2="456.65" y2="540.5" stroke="#2e2e2e" stroke-width="1.0" />
<rect x="399.65" y="529.4" width="100.1" height="28.3" rx="0" fill="#fff" stroke="#2e2e2e" stroke-width="1.1" />
<line x1="404.15" y1="529.4" x2="404.15" y2="557.7" stroke="#2e2e2e" stroke-width="0.9" />
<line x1="495.25" y1="529.4" x2="495.25" y2="557.7" stroke="#2e2e2e" stroke-width="0.9" />
<line x1="410.34999999999997" y1="529.4" x2="410.34999999999997" y2="557.7" stroke="#2e2e2e" stroke-width="0.9" />
<line x1="489.05" y1="529.4" x2="489.05" y2="557.7" stroke="#2e2e2e" stroke-width="0.9" />
<line x1="408.15" y1="531.00" x2="408.15" y2="556.00" stroke="#555" stroke-width="0.9" stroke-dasharray="2,1.8"/>
<line x1="491.25" y1="531.00" x2="491.25" y2="556.00" stroke="#555" stroke-width="0.9" stroke-dasharray="2,1.8"/>
<polygon points="410.85,535.00 430.25,535.00 427.25,537.50 410.85,537.50" fill="#a8a8a8" stroke="none" stroke-width="1.0" />
<polygon points="412.25,541.00 424.25,540.00 431.75,558.60 429.75,561.58 417.75,561.58" fill="#efefef" stroke="none" stroke-width="1.0" />
<line x1="414.25" y1="545.50" x2="427.25" y2="545.50" stroke="#666" stroke-width="0.8" stroke-dasharray="1.3,1.3"/>
<line x1="415.45" y1="549.80" x2="429.05" y2="549.80" stroke="#666" stroke-width="0.8" stroke-dasharray="1.3,1.3"/>
<line x1="416.65" y1="554.10" x2="430.85" y2="554.10" stroke="#666" stroke-width="0.8" stroke-dasharray="1.3,1.3"/>
<line x1="417.85" y1="558.40" x2="432.65" y2="558.40" stroke="#666" stroke-width="0.8" stroke-dasharray="1.3,1.3"/>
<line x1="408.25" y1="541.00" x2="408.25" y2="556.00" stroke="#555" stroke-width="0.9" stroke-dasharray="1.2,1.4"/>
<path d="M410.35,558.1 L410.35,525.70 Q410.35,524.00 413.25,524.00 Q423.75,524.80 431.55,536.30 L425.35,537.60 Q422.75,537.60 419.75,537.60 L411.65,538.2" fill="none" stroke="#2e2e2e" stroke-width="1.1" />
<path d="M411.65,540.87 L417.45,560.74 Q421.75,569.47 424.45,572.50 Q426.25,573.11 427.75,571.29 L434.55,562.20 L432.15,559.29 L423.95,539.41 L422.25,536.6" fill="none" stroke="#2e2e2e" stroke-width="1.1" />
<path d="M432.15,559.29 L425.35,567.65" fill="none" stroke="#2e2e2e" stroke-width="1.0" />
<polygon points="488.65,535.00 469.25,535.00 472.25,537.50 488.65,537.50" fill="#a8a8a8" stroke="none" stroke-width="1.0" />
<polygon points="487.25,541.00 475.25,540.00 467.75,558.60 469.75,561.58 481.75,561.58" fill="#efefef" stroke="none" stroke-width="1.0" />
<line x1="485.25" y1="545.50" x2="472.25" y2="545.50" stroke="#666" stroke-width="0.8" stroke-dasharray="1.3,1.3"/>
<line x1="484.05" y1="549.80" x2="470.45" y2="549.80" stroke="#666" stroke-width="0.8" stroke-dasharray="1.3,1.3"/>
<line x1="482.85" y1="554.10" x2="468.65" y2="554.10" stroke="#666" stroke-width="0.8" stroke-dasharray="1.3,1.3"/>
<line x1="481.65" y1="558.40" x2="466.85" y2="558.40" stroke="#666" stroke-width="0.8" stroke-dasharray="1.3,1.3"/>
<line x1="491.25" y1="541.00" x2="491.25" y2="556.00" stroke="#555" stroke-width="0.9" stroke-dasharray="1.2,1.4"/>
<path d="M489.15,558.1 L489.15,525.70 Q489.15,524.00 486.25,524.00 Q475.75,524.80 467.95,536.30 L474.15,537.60 Q476.75,537.60 479.75,537.60 L487.85,538.2" fill="none" stroke="#2e2e2e" stroke-width="1.1" />
<path d="M487.85,540.87 L482.05,560.74 Q477.75,569.47 475.05,572.50 Q473.25,573.11 471.75,571.29 L464.95,562.20 L467.35,559.29 L475.55,539.41 L477.25,536.6" fill="none" stroke="#2e2e2e" stroke-width="1.1" />
<path d="M467.35,559.29 L474.15,567.65" fill="none" stroke="#2e2e2e" stroke-width="1.0" />
<path d="M427.75,535.8 L426.45,541.63 Q428.75,552.12 435.65,564.50 L463.85,564.50 Q470.75,552.12 473.05,541.63 L471.75,535.8" fill="none" stroke="#2e2e2e" stroke-width="1.1" />
<path d="M442.85,536.5 L442.85,540.5 Q449.75,546.5 456.65,540.5 L456.65,536.5" fill="#fff" stroke="#2e2e2e" stroke-width="1.0" />
<path d="M413.35,557.7 L413.35,666.4 Q413.35,670.4 417.35,670.4 L482.85,670.4 Q486.85,670.4 486.85,666.4 L486.85,557.7" fill="none" stroke="#2e2e2e" stroke-width="1.1" />
<line x1="417.05" y1="557.7" x2="417.05" y2="667" stroke="#2e2e2e" stroke-width="0.9" />
<line x1="483.15000000000003" y1="557.7" x2="483.15000000000003" y2="667" stroke="#2e2e2e" stroke-width="0.9" />
<line x1="420.75" y1="557.7" x2="420.75" y2="667" stroke="#2e2e2e" stroke-width="0.9" />
<line x1="479.45000000000005" y1="557.7" x2="479.45000000000005" y2="667" stroke="#2e2e2e" stroke-width="0.9" />
<line x1="417.05" y1="663" x2="483.15000000000003" y2="663" stroke="#2e2e2e" stroke-width="0.9" />
<line x1="417.05" y1="667.4" x2="483.15000000000003" y2="667.4" stroke="#2e2e2e" stroke-width="0.9" />
<polygon points="407.85,577.60 413.35,577.60 413.35,593.20" fill="#fff" stroke="#2e2e2e" stroke-width="1.0" />
<polygon points="491.45,577.60 486.85,577.60 486.85,593.20" fill="#fff" stroke="#2e2e2e" stroke-width="1.0" />
<rect x="421.65000000000003" y="579.4" width="56" height="69.3" rx="0" fill="none" stroke="#2e2e2e" stroke-width="1.0" />
<rect x="446.05" y="552.2" width="10.5" height="69.5" rx="0" fill="#fff" stroke="#2e2e2e" stroke-width="1.0" />
<line x1="446.55" y1="628.44" x2="456.05" y2="628.44" stroke="#555" stroke-width="0.9" stroke-dasharray="1.4,1.2"/>
<line x1="446.55" y1="631.64" x2="456.05" y2="631.64" stroke="#555" stroke-width="0.9" stroke-dasharray="1.4,1.2"/>
<line x1="446.55" y1="634.84" x2="456.05" y2="634.84" stroke="#555" stroke-width="0.9" stroke-dasharray="1.4,1.2"/>
<line x1="446.55" y1="638.04" x2="456.05" y2="638.04" stroke="#555" stroke-width="0.9" stroke-dasharray="1.4,1.2"/>
<line x1="446.55" y1="641.24" x2="456.05" y2="641.24" stroke="#555" stroke-width="0.9" stroke-dasharray="1.4,1.2"/>
<line x1="446.55" y1="644.44" x2="456.05" y2="644.44" stroke="#555" stroke-width="0.9" stroke-dasharray="1.4,1.2"/>
<line x1="446.05" y1="622.00" x2="446.05" y2="648.70" stroke="#444" stroke-width="1.0" stroke-dasharray="2,1.5"/>
<line x1="456.55" y1="607.40" x2="456.55" y2="648.70" stroke="#444" stroke-width="1.0" stroke-dasharray="2,1.5"/>
<rect x="446.55" y="587.44" width="9.5" height="4.5" rx="0" fill="none" stroke="#2e2e2e" stroke-width="0.9" />
<rect x="446.55" y="592.44" width="9.5" height="8" rx="0" fill="none" stroke="#2e2e2e" stroke-width="0.9" />
<line x1="447.35" y1="579.40" x2="469.45" y2="579.40" stroke="#3a3a3a" stroke-width="1.1" stroke-dasharray="2,1.8"/>
<line x1="469.45" y1="579.40" x2="469.45" y2="662.00" stroke="#3a3a3a" stroke-width="1.1" stroke-dasharray="2,1.8"/>
<line x1="463.25" y1="604.40" x2="463.25" y2="662.00" stroke="#3a3a3a" stroke-width="1.1" stroke-dasharray="2,1.8"/>
<line x1="456.55" y1="604.40" x2="475.75" y2="604.40" stroke="#3a3a3a" stroke-width="1.1" stroke-dasharray="2,1.8"/>
<line x1="456.55" y1="622.00" x2="456.55" y2="662.00" stroke="#3a3a3a" stroke-width="1.1" stroke-dasharray="2,1.8"/>
<line x1="471.25" y1="583.40" x2="477.25" y2="583.40" stroke="#444" stroke-width="1.0" stroke-dasharray="1.5,1.0"/>
<line x1="471.25" y1="586.90" x2="477.25" y2="586.90" stroke="#444" stroke-width="1.0" stroke-dasharray="1.5,1.0"/>
<line x1="471.25" y1="590.40" x2="477.25" y2="590.40" stroke="#444" stroke-width="1.0" stroke-dasharray="1.5,1.0"/>
<line x1="471.25" y1="593.90" x2="477.25" y2="593.90" stroke="#444" stroke-width="1.0" stroke-dasharray="1.5,1.0"/>
<line x1="471.25" y1="597.40" x2="477.25" y2="597.40" stroke="#444" stroke-width="1.0" stroke-dasharray="1.5,1.0"/>
<line x1="471.25" y1="600.90" x2="477.25" y2="600.90" stroke="#444" stroke-width="1.0" stroke-dasharray="1.5,1.0"/>
<line x1="471.25" y1="604.40" x2="477.25" y2="604.40" stroke="#444" stroke-width="1.0" stroke-dasharray="1.5,1.0"/>
<line x1="471.25" y1="607.90" x2="477.25" y2="607.90" stroke="#444" stroke-width="1.0" stroke-dasharray="1.5,1.0"/>
<line x1="471.25" y1="611.40" x2="477.25" y2="611.40" stroke="#444" stroke-width="1.0" stroke-dasharray="1.5,1.0"/>
<line x1="471.25" y1="614.90" x2="477.25" y2="614.90" stroke="#444" stroke-width="1.0" stroke-dasharray="1.5,1.0"/>
<line x1="471.25" y1="618.40" x2="477.25" y2="618.40" stroke="#444" stroke-width="1.0" stroke-dasharray="1.5,1.0"/>
<line x1="471.25" y1="621.90" x2="477.25" y2="621.90" stroke="#444" stroke-width="1.0" stroke-dasharray="1.5,1.0"/>
<line x1="471.25" y1="625.40" x2="477.25" y2="625.40" stroke="#444" stroke-width="1.0" stroke-dasharray="1.5,1.0"/>
<line x1="471.25" y1="628.90" x2="477.25" y2="628.90" stroke="#444" stroke-width="1.0" stroke-dasharray="1.5,1.0"/>
<line x1="471.25" y1="632.40" x2="477.25" y2="632.40" stroke="#444" stroke-width="1.0" stroke-dasharray="1.5,1.0"/>
<line x1="471.25" y1="635.90" x2="477.25" y2="635.90" stroke="#444" stroke-width="1.0" stroke-dasharray="1.5,1.0"/>
<line x1="471.25" y1="639.40" x2="477.25" y2="639.40" stroke="#444" stroke-width="1.0" stroke-dasharray="1.5,1.0"/>
<line x1="471.25" y1="642.90" x2="477.25" y2="642.90" stroke="#444" stroke-width="1.0" stroke-dasharray="1.5,1.0"/>
<line x1="447.55" y1="605.40" x2="447.55" y2="662.00" stroke="#444" stroke-width="1.0" stroke-dasharray="1.8,1.8"/>
<line x1="419.75" y1="627.20" x2="438.15" y2="662.00" stroke="#3a3a3a" stroke-width="0.9" stroke-dasharray="2,1.8"/>
<circle cx="429.85" cy="662" r="2.4" fill="#fff" stroke="#2e2e2e" stroke-width="0.9"/>
<line x1="431.35" y1="664" x2="445.35" y2="668" stroke="#2e2e2e" stroke-width="0.8" />
<line x1="354" y1="538.3" x2="492" y2="538.3" stroke="#111" stroke-width="1.2" />
<polygon points="410.35,538.30 418.35,536.10 418.35,540.50" fill="#222" stroke="#111" stroke-width="0.8"/>
<polygon points="489.15,538.30 481.15,540.50 481.15,536.10" fill="#222" stroke="#111" stroke-width="0.8"/>
<text x="357.7" y="536" font-size="15.5" font-family="Liberation Sans, sans-serif" stroke="#1a1a1a" stroke-width="0.25" font-weight="normal" fill="#1a1a1a" text-anchor="start" textLength="19.5" lengthAdjust="spacingAndGlyphs">8.6</text>
<line x1="524" y1="534.5" x2="524" y2="617" stroke="#111" stroke-width="1.1" />
<line x1="474.75" y1="557.7" x2="529" y2="557.7" stroke="#111" stroke-width="1.1" />
<line x1="441.75" y1="564" x2="529" y2="564" stroke="#111" stroke-width="1.1" />
<polygon points="524.00,557.70 521.20,546.70 526.80,546.70" fill="#5a5a5a" stroke="#111" stroke-width="0.8"/>
<polygon points="524.00,564.00 526.80,575.00 521.20,575.00" fill="#5a5a5a" stroke="#111" stroke-width="0.8"/>
<text transform="translate(521.70,613.00) rotate(-90)" font-size="15.5" font-family="Liberation Sans, sans-serif" stroke="#1a1a1a" stroke-width="0.25" fill="#1a1a1a" textLength="28.30" lengthAdjust="spacingAndGlyphs">0.82</text>
<text x="448.25" y="454.5" font-size="19.5" font-family="Liberation Sans, sans-serif" font-weight="normal" fill="#1a1a1a" text-anchor="middle" textLength="81.89999999999998" lengthAdjust="spacingAndGlyphs">LATCH IN</text>
<text x="448.6" y="473.5" font-size="19.5" font-family="Liberation Sans, sans-serif" font-weight="normal" fill="#1a1a1a" text-anchor="middle" textLength="173.8" lengthAdjust="spacingAndGlyphs">DELATCH POSITION</text>
<path d="M601.85,495.5 L794.1,495.5 L794.1,511.0 Q794.1,512.8 792.1,512.8 L603.85,512.8 Q601.85,512.8 601.85,511.0 Z" fill="#fafafa" stroke="#2e2e2e" stroke-width="1.2" />
<line x1="603.85" y1="511.7" x2="792.1" y2="511.7" stroke="#555" stroke-width="0.7" />
<line x1="621.60" y1="496.00" x2="613.45" y2="511.50" stroke="#555" stroke-width="1.3" stroke-dasharray="1.8,2.2"/>
<line x1="774.60" y1="496.00" x2="782.75" y2="511.50" stroke="#555" stroke-width="1.3" stroke-dasharray="1.8,2.2"/>
<line x1="646.60" y1="496.00" x2="654.70" y2="511.50" stroke="#555" stroke-width="1.3" stroke-dasharray="1.8,2.2"/>
<line x1="749.60" y1="496.00" x2="741.50" y2="511.50" stroke="#555" stroke-width="1.3" stroke-dasharray="1.8,2.2"/>
<path d="M675.35,512.8 Q684.7,512.8 684.7,522.8 L684.7,532.40 L681.7,533.75" fill="none" stroke="#2e2e2e" stroke-width="1.1" />
<line x1="691.2" y1="512.8" x2="691.2" y2="542" stroke="#2e2e2e" stroke-width="1.0" />
<path d="M720.85,512.8 Q711.5,512.8 711.5,522.8 L711.5,532.40 L714.5,533.75" fill="none" stroke="#2e2e2e" stroke-width="1.1" />
<line x1="705.0" y1="512.8" x2="705.0" y2="542" stroke="#2e2e2e" stroke-width="1.0" />
<rect x="648.0" y="529.4" width="100.1" height="28.3" rx="0" fill="#fff" stroke="#2e2e2e" stroke-width="1.1" />
<line x1="652.5" y1="529.4" x2="652.5" y2="557.7" stroke="#2e2e2e" stroke-width="0.9" />
<line x1="743.6" y1="529.4" x2="743.6" y2="557.7" stroke="#2e2e2e" stroke-width="0.9" />
<line x1="658.7" y1="529.4" x2="658.7" y2="557.7" stroke="#2e2e2e" stroke-width="0.9" />
<line x1="737.4" y1="529.4" x2="737.4" y2="557.7" stroke="#2e2e2e" stroke-width="0.9" />
<line x1="656.50" y1="531.00" x2="656.50" y2="556.00" stroke="#555" stroke-width="0.9" stroke-dasharray="2,1.8"/>
<line x1="739.60" y1="531.00" x2="739.60" y2="556.00" stroke="#555" stroke-width="0.9" stroke-dasharray="2,1.8"/>
<polygon points="659.20,535.00 678.60,535.00 675.60,537.50 659.20,537.50" fill="#a8a8a8" stroke="none" stroke-width="1.0" />
<polygon points="660.60,541.00 672.60,540.00 680.10,559.80 678.10,562.94 666.10,562.94" fill="#efefef" stroke="none" stroke-width="1.0" />
<line x1="662.60" y1="545.50" x2="675.60" y2="545.50" stroke="#666" stroke-width="0.8" stroke-dasharray="1.3,1.3"/>
<line x1="663.80" y1="550.20" x2="677.40" y2="550.20" stroke="#666" stroke-width="0.8" stroke-dasharray="1.3,1.3"/>
<line x1="665.00" y1="554.90" x2="679.20" y2="554.90" stroke="#666" stroke-width="0.8" stroke-dasharray="1.3,1.3"/>
<line x1="666.20" y1="559.60" x2="681.00" y2="559.60" stroke="#666" stroke-width="0.8" stroke-dasharray="1.3,1.3"/>
<line x1="656.60" y1="541.00" x2="656.60" y2="556.00" stroke="#555" stroke-width="0.9" stroke-dasharray="1.2,1.4"/>
<path d="M658.70,558.1 L658.70,526.90 Q658.70,525.20 661.60,525.20 Q672.10,526.00 679.90,537.50 L673.70,537.60 Q671.10,537.60 668.10,537.60 L660.00,538.2" fill="none" stroke="#2e2e2e" stroke-width="1.1" />
<path d="M660.00,541.02 L665.80,562.06 Q670.10,571.29 672.80,574.50 Q674.60,575.14 676.10,573.22 L682.90,563.60 L680.50,560.52 L672.30,539.48 L670.60,536.6" fill="none" stroke="#2e2e2e" stroke-width="1.1" />
<path d="M680.50,560.52 L673.70,569.37" fill="none" stroke="#2e2e2e" stroke-width="1.0" />
<polygon points="737.00,535.00 717.60,535.00 720.60,537.50 737.00,537.50" fill="#a8a8a8" stroke="none" stroke-width="1.0" />
<polygon points="735.60,541.00 723.60,540.00 716.10,559.80 718.10,562.94 730.10,562.94" fill="#efefef" stroke="none" stroke-width="1.0" />
<line x1="733.60" y1="545.50" x2="720.60" y2="545.50" stroke="#666" stroke-width="0.8" stroke-dasharray="1.3,1.3"/>
<line x1="732.40" y1="550.20" x2="718.80" y2="550.20" stroke="#666" stroke-width="0.8" stroke-dasharray="1.3,1.3"/>
<line x1="731.20" y1="554.90" x2="717.00" y2="554.90" stroke="#666" stroke-width="0.8" stroke-dasharray="1.3,1.3"/>
<line x1="730.00" y1="559.60" x2="715.20" y2="559.60" stroke="#666" stroke-width="0.8" stroke-dasharray="1.3,1.3"/>
<line x1="739.60" y1="541.00" x2="739.60" y2="556.00" stroke="#555" stroke-width="0.9" stroke-dasharray="1.2,1.4"/>
<path d="M737.50,558.1 L737.50,526.90 Q737.50,525.20 734.60,525.20 Q724.10,526.00 716.30,537.50 L722.50,537.60 Q725.10,537.60 728.10,537.60 L736.20,538.2" fill="none" stroke="#2e2e2e" stroke-width="1.1" />
<path d="M736.20,541.02 L730.40,562.06 Q726.10,571.29 723.40,574.50 Q721.60,575.14 720.10,573.22 L713.30,563.60 L715.70,560.52 L723.90,539.48 L725.60,536.6" fill="none" stroke="#2e2e2e" stroke-width="1.1" />
<path d="M715.70,560.52 L722.50,569.37" fill="none" stroke="#2e2e2e" stroke-width="1.0" />
<path d="M676.1,535.8 L674.8000000000001,541.93 Q677.1,552.97 684.0,566.00 L712.2,566.00 Q719.1,552.97 721.4,541.93 L720.1,535.8" fill="none" stroke="#2e2e2e" stroke-width="1.1" />
<path d="M691.2,538 L691.2,542 Q698.1,548 705.0,542 L705.0,538" fill="#fff" stroke="#2e2e2e" stroke-width="1.0" />
<path d="M661.7,557.7 L661.7,666.4 Q661.7,670.4 665.7,670.4 L731.2,670.4 Q735.2,670.4 735.2,666.4 L735.2,557.7" fill="none" stroke="#2e2e2e" stroke-width="1.1" />
<line x1="665.4000000000001" y1="557.7" x2="665.4000000000001" y2="667" stroke="#2e2e2e" stroke-width="0.9" />
<line x1="731.5" y1="557.7" x2="731.5" y2="667" stroke="#2e2e2e" stroke-width="0.9" />
<line x1="669.1" y1="557.7" x2="669.1" y2="667" stroke="#2e2e2e" stroke-width="0.9" />
<line x1="727.8000000000001" y1="557.7" x2="727.8000000000001" y2="667" stroke="#2e2e2e" stroke-width="0.9" />
<line x1="665.4000000000001" y1="663" x2="731.5" y2="663" stroke="#2e2e2e" stroke-width="0.9" />
<line x1="665.4000000000001" y1="667.4" x2="731.5" y2="667.4" stroke="#2e2e2e" stroke-width="0.9" />
<polygon points="656.20,577.60 661.70,577.60 661.70,593.20" fill="#fff" stroke="#2e2e2e" stroke-width="1.0" />
<polygon points="739.80,577.60 735.20,577.60 735.20,593.20" fill="#fff" stroke="#2e2e2e" stroke-width="1.0" />
<rect x="670.0" y="581" width="56" height="69.3" rx="0" fill="none" stroke="#2e2e2e" stroke-width="1.0" />
<rect x="694.4" y="553.7" width="10.5" height="68" rx="0" fill="#fff" stroke="#2e2e2e" stroke-width="1.0" />
<line x1="694.90" y1="629.40" x2="704.40" y2="629.40" stroke="#555" stroke-width="0.9" stroke-dasharray="1.4,1.2"/>
<line x1="694.90" y1="632.60" x2="704.40" y2="632.60" stroke="#555" stroke-width="0.9" stroke-dasharray="1.4,1.2"/>
<line x1="694.90" y1="635.80" x2="704.40" y2="635.80" stroke="#555" stroke-width="0.9" stroke-dasharray="1.4,1.2"/>
<line x1="694.90" y1="639.00" x2="704.40" y2="639.00" stroke="#555" stroke-width="0.9" stroke-dasharray="1.4,1.2"/>
<line x1="694.90" y1="642.20" x2="704.40" y2="642.20" stroke="#555" stroke-width="0.9" stroke-dasharray="1.4,1.2"/>
<line x1="694.90" y1="645.40" x2="704.40" y2="645.40" stroke="#555" stroke-width="0.9" stroke-dasharray="1.4,1.2"/>
<line x1="694.90" y1="648.60" x2="704.40" y2="648.60" stroke="#555" stroke-width="0.9" stroke-dasharray="1.4,1.2"/>
<line x1="694.40" y1="622.00" x2="694.40" y2="650.30" stroke="#444" stroke-width="1.0" stroke-dasharray="2,1.5"/>
<line x1="704.90" y1="609.00" x2="704.90" y2="650.30" stroke="#444" stroke-width="1.0" stroke-dasharray="2,1.5"/>
<rect x="694.9" y="588.4" width="9.5" height="4.5" rx="0" fill="none" stroke="#2e2e2e" stroke-width="0.9" />
<rect x="694.9" y="593.4" width="9.5" height="8" rx="0" fill="none" stroke="#2e2e2e" stroke-width="0.9" />
<line x1="695.70" y1="581.00" x2="717.80" y2="581.00" stroke="#3a3a3a" stroke-width="1.1" stroke-dasharray="2,1.8"/>
<line x1="717.80" y1="581.00" x2="717.80" y2="662.00" stroke="#3a3a3a" stroke-width="1.1" stroke-dasharray="2,1.8"/>
<line x1="711.60" y1="606.00" x2="711.60" y2="662.00" stroke="#3a3a3a" stroke-width="1.1" stroke-dasharray="2,1.8"/>
<line x1="704.90" y1="606.00" x2="724.10" y2="606.00" stroke="#3a3a3a" stroke-width="1.1" stroke-dasharray="2,1.8"/>
<line x1="704.90" y1="622.00" x2="704.90" y2="662.00" stroke="#3a3a3a" stroke-width="1.1" stroke-dasharray="2,1.8"/>
<line x1="719.60" y1="585.00" x2="725.60" y2="585.00" stroke="#444" stroke-width="1.0" stroke-dasharray="1.5,1.0"/>
<line x1="719.60" y1="588.50" x2="725.60" y2="588.50" stroke="#444" stroke-width="1.0" stroke-dasharray="1.5,1.0"/>
<line x1="719.60" y1="592.00" x2="725.60" y2="592.00" stroke="#444" stroke-width="1.0" stroke-dasharray="1.5,1.0"/>
<line x1="719.60" y1="595.50" x2="725.60" y2="595.50" stroke="#444" stroke-width="1.0" stroke-dasharray="1.5,1.0"/>
<line x1="719.60" y1="599.00" x2="725.60" y2="599.00" stroke="#444" stroke-width="1.0" stroke-dasharray="1.5,1.0"/>
<line x1="719.60" y1="602.50" x2="725.60" y2="602.50" stroke="#444" stroke-width="1.0" stroke-dasharray="1.5,1.0"/>
<line x1="719.60" y1="606.00" x2="725.60" y2="606.00" stroke="#444" stroke-width="1.0" stroke-dasharray="1.5,1.0"/>
<line x1="719.60" y1="609.50" x2="725.60" y2="609.50" stroke="#444" stroke-width="1.0" stroke-dasharray="1.5,1.0"/>
<line x1="719.60" y1="613.00" x2="725.60" y2="613.00" stroke="#444" stroke-width="1.0" stroke-dasharray="1.5,1.0"/>
<line x1="719.60" y1="616.50" x2="725.60" y2="616.50" stroke="#444" stroke-width="1.0" stroke-dasharray="1.5,1.0"/>
<line x1="719.60" y1="620.00" x2="725.60" y2="620.00" stroke="#444" stroke-width="1.0" stroke-dasharray="1.5,1.0"/>
<line x1="719.60" y1="623.50" x2="725.60" y2="623.50" stroke="#444" stroke-width="1.0" stroke-dasharray="1.5,1.0"/>
<line x1="719.60" y1="627.00" x2="725.60" y2="627.00" stroke="#444" stroke-width="1.0" stroke-dasharray="1.5,1.0"/>
<line x1="719.60" y1="630.50" x2="725.60" y2="630.50" stroke="#444" stroke-width="1.0" stroke-dasharray="1.5,1.0"/>
<line x1="719.60" y1="634.00" x2="725.60" y2="634.00" stroke="#444" stroke-width="1.0" stroke-dasharray="1.5,1.0"/>
<line x1="719.60" y1="637.50" x2="725.60" y2="637.50" stroke="#444" stroke-width="1.0" stroke-dasharray="1.5,1.0"/>
<line x1="719.60" y1="641.00" x2="725.60" y2="641.00" stroke="#444" stroke-width="1.0" stroke-dasharray="1.5,1.0"/>
<line x1="719.60" y1="644.50" x2="725.60" y2="644.50" stroke="#444" stroke-width="1.0" stroke-dasharray="1.5,1.0"/>
<line x1="695.90" y1="607.00" x2="695.90" y2="662.00" stroke="#444" stroke-width="1.0" stroke-dasharray="1.8,1.8"/>
<line x1="668.10" y1="627.20" x2="686.50" y2="662.00" stroke="#3a3a3a" stroke-width="0.9" stroke-dasharray="2,1.8"/>
<circle cx="678.20" cy="662" r="2.4" fill="#fff" stroke="#2e2e2e" stroke-width="0.9"/>
<line x1="679.7" y1="664" x2="693.7" y2="668" stroke="#2e2e2e" stroke-width="0.8" />
<line x1="602" y1="538.3" x2="738" y2="538.3" stroke="#111" stroke-width="1.2" />
<polygon points="658.70,538.30 666.70,536.10 666.70,540.50" fill="#222" stroke="#111" stroke-width="0.8"/>
<polygon points="737.50,538.30 729.50,540.50 729.50,536.10" fill="#222" stroke="#111" stroke-width="0.8"/>
<text x="609.4" y="536.7" font-size="15.5" font-family="Liberation Sans, sans-serif" stroke="#1a1a1a" stroke-width="0.25" font-weight="normal" fill="#1a1a1a" text-anchor="start" textLength="19.5" lengthAdjust="spacingAndGlyphs">8.6</text>
<line x1="780.6" y1="534.5" x2="780.6" y2="617" stroke="#111" stroke-width="1.1" />
<line x1="723.1" y1="557.7" x2="785.6" y2="557.7" stroke="#111" stroke-width="1.1" />
<line x1="690.1" y1="566.9" x2="785.6" y2="566.9" stroke="#111" stroke-width="1.1" />
<polygon points="780.60,557.70 777.80,546.70 783.40,546.70" fill="#5a5a5a" stroke="#111" stroke-width="0.8"/>
<polygon points="780.60,566.90 783.40,577.90 777.80,577.90" fill="#5a5a5a" stroke="#111" stroke-width="0.8"/>
<text transform="translate(778.20,606.50) rotate(-90)" font-size="15.5" font-family="Liberation Sans, sans-serif" stroke="#1a1a1a" stroke-width="0.25" fill="#1a1a1a" textLength="25.10" lengthAdjust="spacingAndGlyphs">1.02</text>
<text x="703.75" y="454.5" font-size="19.5" font-family="Liberation Sans, sans-serif" font-weight="normal" fill="#1a1a1a" text-anchor="middle" textLength="81.29999999999995" lengthAdjust="spacingAndGlyphs">LATCH IN</text>
<text x="704.5" y="473.3" font-size="19.5" font-family="Liberation Sans, sans-serif" font-weight="normal" fill="#1a1a1a" text-anchor="middle" textLength="169" lengthAdjust="spacingAndGlyphs">BOTTOM POSITION</text>
</svg></body></html>
